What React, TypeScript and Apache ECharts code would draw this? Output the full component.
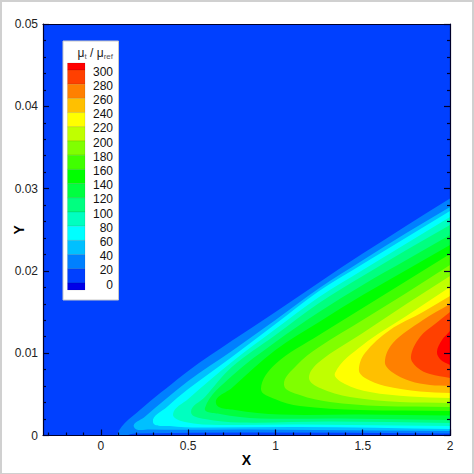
import React, { useEffect, useRef } from "react";
import * as echarts from "echarts";

// Contour levels and the colour of the band above each one.
const legendLabels = [300, 280, 260, 240, 220, 200, 180, 160, 140, 120, 100, 80, 60, 40, 20, 0];
const legendColors = [
  "#ff0000", "#ff4000", "#ff8000", "#ffc000", "#ffff00", "#c0ff00", "#80ff00", "#40ff00", "#00ff00",
  "#00ff40", "#00ff80", "#00ffc0", "#00ffff", "#00c0ff", "#0080ff", "#0040ff", "#0000e8",
];
const xMajor = [0, 0.5, 1, 1.5, 2];
const xMinor = [-0.3, -0.2, -0.1, 0.1, 0.2, 0.3, 0.4, 0.6, 0.7, 0.8, 0.9, 1.1, 1.2, 1.3, 1.4, 1.6, 1.7, 1.8, 1.9];

const X_MIN = -0.332;
const X_MAX = 2;

// Contours: [x, y in thousandths], lower branch from the
// right edge to the nose, then the upper branch back to the right edge.
const c0 = [[X_MIN, 0], [X_MAX, 0], [X_MAX, 50], [X_MIN, 50]];
const c20 = [[2, 0.24], [0.854, 0.36], [0.195, 0.24], [0.092, 0.06], [0.25, 3.58], [0.375, 5.75], [0.5, 7.85], [0.75, 11.5], [1, 15.0], [1.25, 18.6], [1.5, 22.1], [1.75, 25.5], [2, 28.8]];
const c40 = [[2, 0.55], [0.854, 0.73], [0.281, 0.73], [0.189, 1.03], [0.25, 2.25], [0.5, 6.62], [0.75, 10.27], [1, 14.03], [1.25, 17.9], [1.5, 21.3], [1.75, 24.6], [2, 27.76]];
const c60 = [[2, 0.79], [1.14, 1.03], [0.567, 0.97], [0.395, 1.15], [0.298, 1.64], [0.378, 3.46], [0.5, 5.65], [0.75, 9.54], [1, 13.55], [1.25, 17.56], [1.5, 20.84], [1.75, 24.06], [2, 27.28]];
const c80 = [[2, 1.15], [1.14, 1.34], [0.682, 1.28], [0.481, 1.64], [0.413, 2.61], [0.5, 4.43], [0.75, 8.93], [1, 12.94], [1.25, 16.83], [1.5, 20.11], [1.75, 23.33], [2, 26.55]];
const c100 = [[2, 1.52], [1.312, 1.7], [0.796, 1.58], [0.596, 2.0], [0.516, 2.86], [0.596, 4.68], [0.75, 8.32], [1, 12.21], [1.25, 16.1], [1.5, 19.38], [1.75, 22.54], [2, 25.58]];
const c120 = [[2, 1.88], [1.369, 2.07], [0.911, 2.07], [0.682, 2.61], [0.596, 3.34], [0.75, 7.23], [1, 11.36], [1.25, 15.0], [1.5, 18.29], [1.75, 21.32], [2, 24.36]];
const c140 = [[2, 2.43], [1.484, 2.55], [1.026, 2.55], [0.768, 3.1], [0.659, 3.95], [0.75, 5.77], [1, 10.39], [1.25, 13.79], [1.5, 17.07], [1.75, 20.11], [2, 23.15]];
const c160 = [[2, 2.98], [1.484, 3.1], [1.14, 3.58], [0.997, 4.43], [0.917, 5.65], [1, 8.69], [1.25, 12.21], [1.5, 15.49], [1.75, 18.77], [2, 22.05]];
const c180 = [[2, 3.46], [1.599, 3.58], [1.312, 4.07], [1.14, 4.92], [1.049, 6.14], [1.123, 8.57], [1.25, 10.75], [1.5, 14.03], [1.75, 17.31], [2, 20.72]];
const c200 = [[2, 3.95], [1.713, 4.07], [1.427, 4.68], [1.255, 5.77], [1.192, 6.99], [1.25, 8.93], [1.5, 12.45], [1.75, 15.98], [2, 19.38]];
const c220 = [[2, 4.56], [1.771, 4.74], [1.541, 5.29], [1.398, 6.26], [1.341, 7.59], [1.5, 11.0], [1.75, 14.52], [2, 18.04]];
const c240 = [[2, 5.16], [1.828, 5.35], [1.627, 6.01], [1.513, 6.99], [1.478, 7.96], [1.513, 10.02], [1.656, 12.82], [1.845, 15.0], [2, 16.95]];
const c260 = [[2, 6.01], [1.885, 6.14], [1.771, 6.62], [1.667, 7.72], [1.627, 8.93], [1.673, 11.24], [1.845, 14.03], [2, 15.98]];
const c280 = [[2, 6.99], [1.885, 7.47], [1.816, 8.2], [1.776, 9.54], [1.828, 11.97], [1.914, 13.55], [2, 15.0]];
const c300 = [[2, 8.57], [1.948, 9.17], [1.925, 10.15], [1.954, 11.6], [2, 12.7]];

const contours = [c20, c40, c60, c80, c100, c120, c140, c160, c180, c200, c220, c240, c260, c280, c300];
const contourColors = legendColors.slice(0, 15).reverse();

const FONT = "'Liberation Sans', Arial, sans-serif";

function smoothPath(pts: number[][]): string {
  let d = `M${pts[0][0]} ${pts[0][1]}`;
  const tan = (i: number) => {
    const a = pts[Math.max(0, i - 1)];
    const b = pts[Math.min(pts.length - 1, i + 1)];
    const dx = b[0] - a[0];
    const dy = b[1] - a[1];
    const l = Math.hypot(dx, dy) || 1;
    return [dx / l, dy / l];
  };
  for (let i = 0; i < pts.length - 1; i++) {
    const p = pts[i];
    const q = pts[i + 1];
    const s = Math.hypot(q[0] - p[0], q[1] - p[1]) / 3;
    const t0 = tan(i);
    const t1 = tan(i + 1);
    d += `C${p[0] + t0[0] * s} ${p[1] + t0[1] * s} ${q[0] - t1[0] * s} ${q[1] - t1[1] * s} ${q[0]} ${q[1]}`;
  }
  return d + "Z";
}

function legendGraphics() {
  const items: any[] = [
    { type: "rect", z: 100, shape: { x: 63, y: 41, width: 55.5, height: 259 }, style: { fill: "#ffffff", stroke: "#c8c8c8", lineWidth: 1 } },
    {
      type: "text", z: 101, x: 113, y: 53,
      style: {
        text: "{m|μ}{s|t}{m| / μ}{s|ref}",
        align: "right", verticalAlign: "middle", fill: "#222",
        rich: {
          m: { fontSize: 12, fontFamily: FONT, fill: "#222" },
          s: { fontSize: 8, fontFamily: FONT, fill: "#555", padding: [6, 0, 0, 0] },
        },
      },
    },
  ];
  const step = 14.2;
  const top = 70;
  legendColors.forEach((color, i) => {
    const y0 = i === 0 ? 63 : top + (i - 1) * step;
    const y1 = i === legendColors.length - 1 ? 290 : top + i * step;
    items.push({
      type: "rect", z: 101, shape: { x: 67.5, y: y0, width: 17.5, height: y1 - y0 },
      style: { fill: color, stroke: "rgba(0,0,0,0.18)", lineWidth: 0.5 },
    });
  });
  legendLabels.forEach((label, i) => {
    items.push({
      type: "text", z: 101, x: 113, y: top + 1.5 + i * step,
      style: { text: String(label), align: "right", verticalAlign: "middle", fontSize: 12, fontFamily: FONT, fill: "#111" },
    });
  });
  return items;
}

const lineStyle = { color: "#00002a", width: 1.2 };

export default function App() {
  const ref = useRef<HTMLDivElement>(null);
  useEffect(() => {
    const chart = echarts.init(ref.current!, null, { renderer: "svg" });
    const xAxisBase = { type: "value", min: X_MIN, max: X_MAX, z: 50, splitLine: { show: false } };
    const hiddenLabels = { axisLabel: { show: false } };
    chart.setOption({
      animation: false,
      grid: { left: 43, right: 24, top: 24, bottom: 38.5, show: false, containLabel: false, outerBoundsMode: "none" },
      xAxis: [
        {
          ...xAxisBase, position: "bottom", name: "X", nameLocation: "middle", nameGap: 17.5, nameMoveOverlap: false,
          nameTextStyle: { fontFamily: FONT, fontWeight: "bold", fontSize: 14, color: "#000" },
          axisLine: { show: true, onZero: false, lineStyle },
          axisTick: { show: true, inside: true, length: 6, customValues: xMajor, lineStyle },
          axisLabel: { show: true, customValues: xMajor, margin: 4, fontFamily: FONT, fontSize: 12, color: "#222", formatter: (v: number) => String(v) },
        },
        { ...xAxisBase, position: "bottom", ...hiddenLabels, axisLine: { show: false, onZero: false }, axisTick: { show: true, inside: true, length: 3, customValues: xMinor, lineStyle } },
        { ...xAxisBase, position: "top", ...hiddenLabels, axisLine: { show: true, onZero: false, lineStyle }, axisTick: { show: false } },
      ],
      yAxis: [
        {
          type: "value", min: 0, max: 0.05, interval: 0.01, position: "left", z: 50,
          name: "Y", nameLocation: "middle", nameGap: 17, nameMoveOverlap: false,
          nameTextStyle: { fontFamily: FONT, fontWeight: "bold", fontSize: 14, color: "#000" },
          splitLine: { show: false },
          axisLine: { show: true, onZero: false, lineStyle },
          axisTick: { show: true, inside: true, length: 6, lineStyle },
          minorTick: { show: true, splitNumber: 5, length: 3, lineStyle },
          axisLabel: { margin: 5, fontFamily: FONT, fontSize: 12, color: "#222", formatter: (v: number) => String(+v.toFixed(2)) },
        },
        {
          type: "value", min: 0, max: 0.05, interval: 0.01, position: "right", z: 50,
          splitLine: { show: false }, axisLabel: { show: false },
          axisLine: { show: true, onZero: false, lineStyle },
          axisTick: { show: true, inside: true, length: 6, lineStyle },
          minorTick: { show: true, splitNumber: 5, length: 3, lineStyle },
        },
      ],
      series: [
        {
          type: "custom",
          coordinateSystem: "cartesian2d",
          xAxisIndex: 0,
          yAxisIndex: 0,
          clip: true,
          z: 1,
          silent: true,
          data: [c0, ...contours].map((c, i) => [c[0][0], c[0][1] / 1000, i]),
          renderItem: (params: any, api: any) => {
            const i = params.dataIndex;
            const all = [c0, ...contours];
            const pts = all[i].map((p) => api.coord([p[0], p[1] / 1000]));
            if (i === 0) {
              return {
                type: "polygon",
                shape: { points: pts },
                style: { fill: legendColors[15], stroke: null },
              };
            }
            return {
              type: "path",
              shape: { pathData: smoothPath(pts) },
              style: { fill: contourColors[i - 1], stroke: null },
            };
          },
        },
      ],
      graphic: legendGraphics(),
    });
    return () => chart.dispose();
  }, []);
  return (
    <div style={{ position: "absolute", left: 0, top: 0, width: 474, height: 474, background: "#d0d0d0", overflow: "hidden" }}>
      <div style={{ position: "absolute", left: 2, top: 1.5, width: 470, height: 471, background: "#ffffff" }} />
      <div ref={ref} style={{ position: "absolute", left: 0, top: 0, width: 474, height: 474 }} />
    </div>
  );
}
